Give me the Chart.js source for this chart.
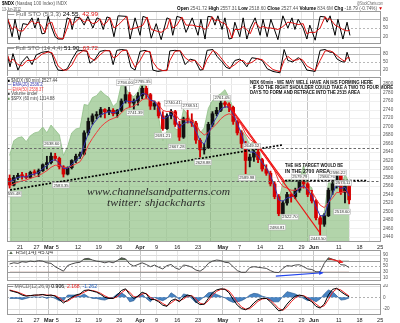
<!DOCTYPE html>
<html><head><meta charset="utf-8"><title>$NDX 60 min</title>
<script src="https://cdn.jsdelivr.net/npm/chart.js@4.4.1/dist/chart.umd.min.js"></script>
<style>
html,body{margin:0;padding:0;background:#fff;}
body{position:relative;width:400px;height:323px;overflow:hidden;}
canvas{position:absolute;left:0;}
</style></head><body>
<canvas id="c1" width="400" height="44" style="top:0px"></canvas>
<canvas id="c2" width="400" height="30" style="top:46px"></canvas>
<canvas id="c3" width="400" height="174" style="top:77px"></canvas>
<canvas id="c4" width="400" height="31" style="top:250px"></canvas>
<canvas id="c5" width="400" height="40" style="top:284px"></canvas>
<script>
// ---------- DATA (trading-day index: Feb 15 2012 = -1) ----------
const firstDay = -1;
const ndxOpen = [2578,2562,2580,2585,2583,2580,2592,2590,2596,2610,
2615,2630,2625,2605,2588,2603,2620,2630,2635,2685,
2712,2725,2728,2740,2735,2738,2730,2738,2760,2775,
2755,2760,2772,2790,2775,2748,2755,2725,2695,2725,
2735,2705,2675,2718,2715,2708,2668,2645,2650,2705,
2730,2738,2755,2752,2745,2712,2685,2660,2620,2628,
2640,2622,2600,2590,2565,2535,2495,2520,2540,2535,
2550,2570,2565,2540,2525,2485,2470,2490,2550,2565,
2585,2545,2560];
const ndxHigh = [2586,2585,2590,2592,2590,2595,2598,2600,2612,2630,
2638,2637,2628,2608,2605,2622,2635,2640,2690,2720,
2730,2735,2745,2742,2745,2742,2740,2765,2794,2780,
2765,2780,2795,2795,2778,2760,2758,2735,2730,2740,
2738,2712,2722,2738,2730,2712,2672,2660,2710,2735,
2745,2761,2766,2756,2748,2715,2690,2665,2635,2645,
2649,2625,2610,2595,2570,2540,2525,2545,2542,2555,
2575,2580,2568,2550,2528,2490,2495,2555,2575,2592,
2596,2573,2565];
const ndxLow = [2555,2560,2575,2576,2577,2578,2585,2582,2594,2600,
2612,2620,2600,2581,2586,2600,2615,2625,2633,2680,
2705,2718,2722,2720,2728,2725,2722,2735,2755,2745,
2741,2750,2765,2765,2740,2740,2720,2691,2693,2718,
2700,2667,2672,2708,2700,2660,2628,2635,2648,2700,
2725,2735,2745,2735,2705,2680,2650,2589,2605,2618,
2615,2595,2585,2560,2530,2490,2485,2515,2522,2530,
2545,2555,2535,2520,2480,2443,2465,2488,2540,2555,
2540,2520,2518];
const ndxClose = [2562,2580,2585,2583,2580,2592,2590,2596,2610,2615,
2630,2625,2605,2588,2603,2620,2630,2635,2685,2712,
2725,2728,2740,2735,2738,2730,2738,2760,2775,2755,
2760,2772,2790,2775,2748,2755,2725,2695,2725,2735,
2705,2675,2718,2715,2708,2668,2645,2650,2705,2730,
2738,2755,2752,2745,2712,2685,2660,2620,2628,2640,
2622,2600,2590,2565,2535,2495,2520,2540,2535,2550,
2570,2565,2540,2525,2485,2470,2490,2550,2565,2585,
2545,2560,2527.44];
const ema20 = [2570,2575,2580,2582,2581,2586,2588,2592,2601,2608,
2619,2622,2613,2601,2602,2611,2620,2628,2656,2684,
2704,2716,2728,2731,2735,2732,2735,2748,2761,2758,
2759,2765,2778,2776,2762,2759,2742,2718,2722,2730,
2718,2696,2707,2711,2710,2689,2667,2658,2682,2706,
2722,2741,2746,2746,2729,2707,2683,2652,2640,2640,
2631,2615,2603,2584,2560,2527,2524,2532,2533,2542,
2556,2561,2550,2538,2511,2490,2490,2520,2542,2563,
2554,2557,2536.2];
const ema50 = [2560,2565,2569,2572,2574,2578,2581,2584,2590,2596,
2604,2609,2608,2603,2603,2607,2612,2617,2633,2656,
2672,2686,2699,2708,2715,2719,2723,2732,2742,2745,
2748,2754,2763,2766,2762,2760,2751,2738,2735,2736,
2729,2716,2716,2716,2714,2704,2689,2680,2686,2697,
2706,2718,2726,2730,2726,2716,2703,2683,2670,2663,
2655,2642,2630,2615,2596,2572,2559,2555,2550,2550,
2555,2558,2554,2547,2530,2515,2509,2521,2532,2545,
2544,2548,2538.37];
const spxClose = [1343,1358,1361,1362,1357,1363,1366,1367,1372,1366,
1374,1369,1364,1343,1352,1366,1370,1371,1395,1394,
1402,1404,1409,1405,1402,1393,1397,1416,1412,1405,
1403,1408,1419,1413,1398,1398,1382,1358,1368,1387,
1370,1369,1390,1385,1376,1378,1366,1371,1391,1399,
1403,1406,1410,1402,1391,1369,1369,1363,1354,1358,
1353,1338,1330,1325,1305,1295,1316,1318,1318,1320,
1317,1333,1313,1310,1278,1278,1285,1315,1315,1325,
1308,1324,1314.88];
const rsi14 = [58,62,60,66,64,68,66,70,68,62,
60,48,40,32,52,58,62,64,76,78,
72,68,66,62,66,62,70,80,76,58,
50,56,62,56,48,54,46,40,52,56,
44,38,54,52,46,36,32,42,60,68,
72,70,64,62,48,34,28,28,45,48,
46,44,42,34,28,27,42,52,50,54,
55,48,40,38,30,30,60,80,75,70,
55,54,45.04];
const macdLine = [12,10,8,4,2,3,4,4,5,3,
4,2,-4,-10,-5,0,4,6,12,13,
11,9,5,0,-2,-2,4,12,15,5,
-2,2,9,6,-4,-4,-8,-14,-16,-6,
-3,-8,0,4,2,-8,-13,-12,-2,8,
13,15,14,8,-4,-14,-20,-22,-18,-10,
-4,-2,-2,-8,-16,-24,-22,-12,-4,2,
4,2,-4,-8,-16,-19,-12,4,14,16,
10,5,0.906];
const macdSignal = [13,11,9,6,3,3,3.5,4,4.5,4,
3.5,3,-1,-7,-7,-2,2,5,9,12.5,
12,10,7,2.5,-1,-2,1,8,13.5,9,
1,0.5,6,7,0,-4,-6,-11,-15,-10,
-4.5,-6,-3,2,3,-3,-10.5,-12.5,-6,4,
10.5,14,14.5,11,2,-9,-17,-21,-20,-14,
-7,-3,-2,-5,-12,-20,-23,-17,-8,-1,
3,3,-1,-6,-12,-17.5,-15,-4,9,15,
13,7.5,2.168];
const macdHist = [-2,-2,-2,-4,-2,0,1,0,1,-2,
1,-2,-6,-6,4,4,4,2,6,1,
-2,-2,-4,-5,-2,0,6,8,3,-8,
-6,3,6,-2,-8,0,-4,-6,-2,8,
3,-4,6,4,-2,-10,-5,1,8,9,
5,2,-1,-6,-9,-8,-6,-2,4,7,
6,2,0,-6,-8,-8,2,10,8,6,
2,-2,-6,-4,-8,-3,6,13,10,3,
-5,-4,-1.262];
const sto1Days = [-1.1,0.1,0.8,1.8,2.7,3.9,4.9,5.6,6.4,7.3,
8.0,8.8,9.7,10.5,11.2,12.4,13.4,14.1,14.6,15.3,
16.5,17.5,18.4,19.6,20.6,21.3,22.1,23.0,23.7,24.7,
25.7,27.8,28.6,29.8,31.0,31.7,32.7,33.7,34.9,36.1,
37.5,38.2,38.9,39.9,41.1,42.1,43.6,45.0,45.7,46.7,
47.4,48.4,49.1,49.8,50.8,51.5,52.5,53.2,53.9,55.1,
55.9,56.8,57.6,58.8,60.0,60.7,61.7,62.6,64.3,65.5,
66.7,67.7,68.4,69.2,70.4,71.3,72.0,73.3,74.5,75.7,
76.2,76.9,78.1,78.8,80.0,81.0,81.7];
const sto1K = [90,20,80,10,65,62,85,50,85,30,
32,90,50,20,12,12,85,80,45,88,
85,60,90,50,85,80,45,88,85,20,
92,90,12,85,25,90,85,15,65,10,
85,80,25,90,85,35,85,25,80,12,
90,88,60,92,45,85,12,15,70,20,
85,12,50,85,25,80,20,80,10,92,
50,85,45,80,50,12,60,8,90,88,
70,92,25,80,12,70,24.55];
const sto1D = [85,45,55,40,40,62,75,65,70,55,
35,65,70,35,16,12,50,82,60,70,
86,70,78,65,70,82,60,70,86,50,
60,90,45,50,55,60,88,45,40,35,
50,82,50,60,88,60,60,55,55,45,
55,89,75,78,68,65,45,15,45,45,
55,45,30,70,50,55,50,50,45,55,
70,68,65,62,65,30,35,35,50,89,
80,82,60,55,45,40,42.99];
const sto2Days = [-1.1,-0.4,0.3,1.5,2.5,3.7,4.9,5.9,7.3,8.8,
9.7,10.5,11.2,12.4,13.4,14.6,15.8,17.2,18.2,18.9,
20.1,21.3,22.5,23.7,24.5,25.4,26.6,27.8,28.8,29.8,
31.0,32.2,33.4,34.1,35.3,36.5,37.5,38.2,39.4,40.7,
41.9,43.1,44.3,45.5,46.2,47.2,48.6,49.6,50.8,51.8,
52.7,53.9,55.1,55.9,56.8,58.0,59.3,60.5,61.7,63.1,
64.8,65.8,66.7,67.9,69.2,69.6,70.4,71.3,73.3,74.5,
75.7,76.9,77.6,78.6,79.8,80.5,81.0,81.7];
const sto2K = [80,32,80,20,50,70,40,75,85,88,
80,40,20,18,25,60,90,92,88,45,
60,88,92,90,40,92,95,92,30,20,
88,92,85,20,15,18,20,90,92,90,
40,60,55,20,22,92,95,70,50,30,
25,55,60,50,32,65,62,55,25,15,
10,95,55,50,65,62,45,20,15,92,
95,85,85,60,50,50,85,51.9];
const sto2D = [78,50,60,40,35,55,55,60,78,86,
84,60,35,20,20,40,75,90,90,65,
55,75,90,91,65,70,90,93,60,30,
55,88,88,50,25,18,18,55,88,91,
65,52,56,35,22,60,92,82,60,40,
28,40,55,55,42,48,62,58,40,22,
14,55,70,55,58,62,55,35,18,55,
90,90,85,72,58,52,65,63.72];
const xTickDays = [2,6,9,11,16,21,26,31,35,40,45,51,55,60,65,70,73,79,84,89];
const xTickLabels = ['21','27','Mar','5','12','19','26','Apr','9','16','23','May','7','14','21','29','Jun','11','18','25'];
const monthLabels = ['Mar','Apr','May','Jun'];
const ndxTicks = [2440,2460,2480,2500,2520,2540,2560,2580,2600,2620,2640,2660,2680,2700,2720,2740,2760,2780,2800];
const stoTicks = [20,50,80];
const rsiTicks = [10,30,50,70,90];
const macdTicks = [-20,0,20];
const priceLabels = [[0.3,2541,'2555.48'],[9.7,2659,'2638.60'],[11.9,2562,'2583.35'],[27.4,2803,'2794.00'],
[31.7,2805,'2795.35'],[29.8,2732,'2741.39'],[39.0,2755,'2740.41'],[43.1,2748,'2738.51'],[36.5,2678,'2691.21'],
[39.9,2652,'2667.28'],[46.2,2616,'2628.88'],[50.8,2767,'2761.05'],[58.0,2654,'2649.12'],[56.8,2579,'2589.98'],
[64.1,2463,'2484.81'],[67.2,2487,'2522.70'],[69.6,2581,'2579.79'],[74.0,2437,'2443.50'],[76.2,2581,'2584.76'],
[78.8,2591,'2596.22'],[80.0,2567,'2573.11'],[79.8,2499,'2518.60']];
const blackDottedLines = [[[-0.4,2550.6],[65.3,2656.5]],[[66,2572.5],[85.8,2572.5]]];
const redTrendLines = [[[51.5,2760],[74.5,2449]],[[52.25,2753],[66,2569]]];
const levelLines = [2650,2572];
const rsiBullArrow = [[63.8,14.3],[75.1,26.4]];
const rsiBearArrow = [[76.6,76.4],[79.9,64.3]];

// ---------- HELPERS ----------
const FONT = '"Liberation Sans", Arial, sans-serif';
const SERIF = '"Liberation Serif", "Times New Roman", serif';
const X_MIN = -1.135, X_MAX = 89.2;
Chart.defaults.font.family = FONT;
const days = ndxClose.map((_, i) => firstDay + i + 0.5);
const xy = vals => vals.map((v, i) => ({x: days[i], y: v}));
const pairs = (xs, ys) => xs.map((x, i) => ({x: x, y: ys[i]}));

function rich(ctx, segs, x, y, width, size) {
  ctx.save();
  ctx.textBaseline = 'middle'; ctx.textAlign = 'left';
  const fonts = segs.map(s => ((s[2] || '') + ' ' + size + 'px ' + (s[3] || FONT)).trim());
  let total = 0;
  segs.forEach((s, i) => { ctx.font = fonts[i]; total += ctx.measureText(s[0]).width; });
  ctx.translate(x, y); ctx.scale(width / total, 1);
  let cx = 0;
  segs.forEach((s, i) => { ctx.font = fonts[i]; ctx.fillStyle = s[1]; ctx.fillText(s[0], cx, 0); cx += ctx.measureText(s[0]).width; });
  ctx.restore();
}
function xScale(show) {
  return {
    type: 'linear', min: X_MIN, max: X_MAX, offset: false,
    afterBuildTicks: s => { s.ticks = xTickDays.map(v => ({value: v})); },
    afterFit: s => { s.height = show ? 9 : 0; s.paddingLeft = 0; s.paddingRight = 0; },
    ticks: {display: show, autoSkip: false, maxRotation: 0, minRotation: 0, padding: 2, color: '#222',
      font: c => ({family: FONT, size: 5.5, weight: monthLabels.includes(xTickLabels[c.index]) ? 'bold' : 'normal'}),
      callback: (v, i) => xTickLabels[i]},
    grid: {drawTicks: false, lineWidth: 1,
      color: c => monthLabels.includes(xTickLabels[c.index]) ? '#c4c4c4' : '#e6e6e6'},
    border: {display: false}
  };
}
function yScale(min, max, ticks) {
  return {
    type: 'linear', position: 'right', min: min, max: max,
    afterFit: s => { s.width = 19; s.paddingTop = 0; s.paddingBottom = 0; },
    afterBuildTicks: s => { s.ticks = ticks.map(v => ({value: v})); },
    ticks: {autoSkip: false, padding: 2, color: '#555', font: {family: FONT, size: 4.6}, callback: v => String(v)},
    grid: {display: false, drawTicks: false},
    border: {display: false}
  };
}
function options(padTop, showX, yMin, yMax, yTicks, extra) {
  const scales = {x: xScale(showX), y: yScale(yMin, yMax, yTicks)};
  Object.assign(scales, extra || {});
  return {
    responsive: false, animation: false, devicePixelRatio: 1, events: [],
    layout: {padding: {left: 7, right: 0, top: padTop, bottom: 0}},
    plugins: {legend: {display: false}, tooltip: {enabled: false}},
    scales: scales
  };
}
function hgrid(lines) {
  return {id: 'hgrid', beforeDatasetsDraw(c) {
    const ctx = c.ctx, a = c.chartArea, ys = c.scales.y;
    ctx.save();
    lines.forEach(l => {
      const y = Math.round(ys.getPixelForValue(l[0])) + 0.5;
      ctx.strokeStyle = l[1]; ctx.lineWidth = 1; ctx.setLineDash(l[2] || []);
      ctx.beginPath(); ctx.moveTo(a.left, y); ctx.lineTo(a.right, y); ctx.stroke();
    });
    ctx.restore();
  }};
}
const frame = {id: 'frame', afterDraw(c) {
  const a = c.chartArea, ctx = c.ctx;
  ctx.save(); ctx.strokeStyle = '#9a9a9a'; ctx.lineWidth = 1;
  ctx.strokeRect(Math.round(a.left) + 0.5, Math.round(a.top) + 0.5, Math.round(a.right - a.left) - 1, Math.round(a.bottom - a.top) - 1);
  ctx.restore();
}};
function drawSeg(c, p, q, yid) {
  const xs = c.scales.x, ys = c.scales[yid || 'y'];
  return [xs.getPixelForValue(p[0]), ys.getPixelForValue(p[1]), xs.getPixelForValue(q[0]), ys.getPixelForValue(q[1])];
}
function arrow(ctx, x1, y1, x2, y2, col) {
  ctx.strokeStyle = col; ctx.fillStyle = col; ctx.lineWidth = 1.2;
  ctx.beginPath(); ctx.moveTo(x1, y1); ctx.lineTo(x2, y2); ctx.stroke();
  const ang = Math.atan2(y2 - y1, x2 - x1), L = 4;
  ctx.beginPath(); ctx.moveTo(x2 + 1, y2 + Math.sin(ang));
  ctx.lineTo(x2 - L * Math.cos(ang - 0.5), y2 - L * Math.sin(ang - 0.5));
  ctx.lineTo(x2 - L * Math.cos(ang + 0.5), y2 - L * Math.sin(ang + 0.5));
  ctx.closePath(); ctx.fill();
}
const noPt = {pointRadius: 0, tension: 0};

// ---------- PANEL 1: Full STO + header ----------
new Chart(document.getElementById('c1'), {
  type: 'line',
  data: {datasets: [
    Object.assign({data: pairs(sto1Days, sto1D), borderColor: '#e01010', borderWidth: 1, order: 1}, noPt),
    Object.assign({data: pairs(sto1Days, sto1K), borderColor: '#000', borderWidth: 1, order: 2}, noPt)
  ]},
  options: options(11, false, -5, 108.6, stoTicks),
  plugins: [hgrid([[80, '#b8b8b8'], [50, '#b8b8b8', [2, 2]], [20, '#b8b8b8']]), frame, {id: 'hdr', afterDraw(c) {
    const ctx = c.ctx;
    rich(ctx, [['$NDX', '#000', 'bold'], [' (Nasdaq 100 Index) INDX', '#555']], 2, 3.6, 65, 5);
    rich(ctx, [['13-Jun-2012', '#555']], 2, 9.4, 19, 4.6);
    rich(ctx, [['@StockCharts.com', '#666']], 357, 3.4, 26, 4.5);
    rich(ctx, [['Open ', '#000', 'bold'], ['2541.72 ', '#555'], ['High ', '#000', 'bold'], ['2557.31 ', '#555'],
      ['Low ', '#000', 'bold'], ['2518.60 ', '#555'], ['Close ', '#000', 'bold'], ['2527.44 ', '#555'],
      ['Volume ', '#000', 'bold'], ['834.6M ', '#555'], ['Chg ', '#000', 'bold'], ['-18.79 (-0.74%) ', '#555'], ['\u25BC', '#d00000']],
      177, 8.6, 206, 4.8);
    rich(ctx, [['\u2014 ', '#000'], ['Full STO (5,3,3) ', '#666'], ['24.55', '#000'], [', ', '#666'], ['42.99', '#e01010']], 8, 15, 90, 4.5);
  }}]
});

// ---------- PANEL 2: Full STO ----------
new Chart(document.getElementById('c2'), {
  type: 'line',
  data: {datasets: [
    Object.assign({data: pairs(sto2Days, sto2D), borderColor: '#e01010', borderWidth: 1, order: 1}, noPt),
    Object.assign({data: pairs(sto2Days, sto2K), borderColor: '#000', borderWidth: 1, order: 2}, noPt)
  ]},
  options: options(0.5, false, -1.6, 106, stoTicks),
  plugins: [hgrid([[80, '#b8b8b8'], [50, '#b8b8b8', [2, 2]], [20, '#b8b8b8']]), frame, {id: 'lg2', afterDraw(c) {
    rich(c.ctx, [['\u2014 ', '#000'], ['Full STO (14,4,4) ', '#666'], ['51.90', '#000'], [', ', '#666'], ['63.72', '#e01010']], 8, 3, 90, 4.5);
  }}]
});

// ---------- PANEL 3: price ----------
const candleColor = c => ndxClose[c.dataIndex] >= ndxOpen[c.dataIndex] ? '#111' : '#d40000';
new Chart(document.getElementById('c3'), {
  type: 'line',
  data: {datasets: [
    Object.assign({data: xy(spxClose), yAxisID: 'ys', borderColor: '#8fbf86', borderWidth: 0.8,
      backgroundColor: 'rgba(130,186,118,0.62)', fill: 'start', order: 6}, noPt),
    {type: 'bar', data: ndxLow.map((l, i) => ({x: days[i], y: [l, ndxHigh[i]]})), barThickness: 1.2, grouped: false,
      backgroundColor: candleColor, order: 4},
    {type: 'bar', data: ndxOpen.map((o, i) => ({x: days[i], y: [o, ndxClose[i]]})), barThickness: 3, minBarLength: 1.5, grouped: false,
      backgroundColor: candleColor, order: 3},
    Object.assign({data: xy(ema50), borderColor: '#f03a3a', borderWidth: 1, order: 2}, noPt),
    Object.assign({data: xy(ema20), borderColor: '#3535b0', borderWidth: 1, order: 1}, noPt)
  ]},
  options: options(0, true, 2428.2, 2816.5, ndxTicks,
    {ys: {type: 'linear', display: false, position: 'left', min: 1254.7, max: 1423}}),
  plugins: [hgrid(ndxTicks.map(v => [v, '#efefef'])), frame, {id: 'ann', afterDatasetsDraw(c) {
    const ctx = c.ctx, a = c.chartArea;
    ctx.save();
    ctx.beginPath(); ctx.rect(a.left, a.top, a.right - a.left, a.bottom - a.top); ctx.clip();
    levelLines.forEach(v => {
      const y = Math.round(c.scales.y.getPixelForValue(v)) + 0.5;
      ctx.strokeStyle = '#6a6a6a'; ctx.lineWidth = 1; ctx.setLineDash([2.5, 2]);
      ctx.beginPath(); ctx.moveTo(a.left, y); ctx.lineTo(a.right, y); ctx.stroke();
    });
    blackDottedLines.forEach(l => {
      const s = drawSeg(c, l[0], l[1]);
      ctx.strokeStyle = '#000'; ctx.lineWidth = 1.7; ctx.setLineDash([2, 1.6]);
      ctx.beginPath(); ctx.moveTo(s[0], s[1]); ctx.lineTo(s[2], s[3]); ctx.stroke();
    });
    ctx.setLineDash([]);
    redTrendLines.forEach(l => {
      const s = drawSeg(c, l[0], l[1]);
      ctx.strokeStyle = '#ee1111'; ctx.lineWidth = 1.1;
      ctx.beginPath(); ctx.moveTo(s[0], s[1]); ctx.lineTo(s[2], s[3]); ctx.stroke();
    });
    ctx.font = '4.2px ' + FONT; ctx.textAlign = 'center'; ctx.textBaseline = 'middle';
    priceLabels.forEach(p => {
      const x = c.scales.x.getPixelForValue(p[0]), y = c.scales.y.getPixelForValue(p[1]);
      const w = ctx.measureText(p[2]).width + 2;
      ctx.fillStyle = 'rgba(255,255,255,0.92)'; ctx.fillRect(x - w / 2, y - 2.8, w, 5.6);
      ctx.strokeStyle = '#a8a8a8'; ctx.lineWidth = 0.5; ctx.strokeRect(x - w / 2, y - 2.8, w, 5.6);
      ctx.fillStyle = '#333'; ctx.fillText(p[2], x, y + 0.2);
    });
    ctx.restore();
    rich(ctx, [['www.channelsandpatterns.com', '#2b2b2b', 'italic', SERIF]], 87, 115, 143, 10.5);
    rich(ctx, [['twitter: shjackcharts', '#2b2b2b', 'italic', SERIF]], 107, 126, 98, 10.5);
    rich(ctx, [['NDX 60min - WE MAY WELL HAVE AN IHS FORMING HERE', '#111', 'bold']], 250, 5.3, 123, 5);
    rich(ctx, [['- IF SO THE RIGHT SHOULDER COULD TAKE A TWO TO FOUR MORE', '#111', 'bold']], 250, 10.3, 143, 5);
    rich(ctx, [['DAYS TO FORM AND RETRACE INTO THE 2515 AREA', '#111', 'bold']], 250, 15.3, 110, 5);
    rich(ctx, [['THE IHS TARGET WOULD BE', '#111', 'bold']], 285, 88.3, 58, 5);
    rich(ctx, [['IN THE 2700 AREA', '#111', 'bold']], 285, 95, 45, 5);
    rich(ctx, [['\u25A0 ', '#000'], ['$NDX (60 min) 2527.44', '#444']], 7.5, 3.7, 50, 4.6);
    rich(ctx, [['\u2014 ', '#3535b0'], ['EMA(20) 2536.2', '#3535b0']], 7.5, 8, 35, 4.6);
    rich(ctx, [['\u2014 ', '#f03a3a'], ['EMA(50) 2538.37', '#f03a3a']], 7.5, 12.3, 36, 4.6);
    rich(ctx, [['\u25A0 ', '#444'], ['Volume undef', '#444']], 7.5, 17, 30, 4.6);
    rich(ctx, [['\u25A0 ', '#6a9a60'], ['$SPX (60 min) 1314.88', '#444']], 7.5, 21.3, 47, 4.6);
  }}]
});

// ---------- PANEL 4: RSI ----------
new Chart(document.getElementById('c4'), {
  type: 'line',
  data: {datasets: [
    Object.assign({data: xy(rsi14), borderColor: '#4a4a4a', borderWidth: 1, order: 1,
      fill: {target: {value: 70}, above: '#55694f', below: 'rgba(0,0,0,0)'}}, noPt),
    Object.assign({data: xy(rsi14), borderColor: 'rgba(0,0,0,0)', borderWidth: 0, order: 2,
      fill: {target: {value: 30}, above: 'rgba(0,0,0,0)', below: '#8a4b3e'}}, noPt)
  ]},
  options: options(0, false, -3.2, 107.9, rsiTicks),
  plugins: [hgrid([[90, '#dcdcdc'], [70, '#9a9a9a'], [50, '#b0b0b0', [2, 2]], [30, '#9a9a9a'], [10, '#dcdcdc']]), frame, {id: 'rsiann', afterDatasetsDraw(c) {
    const ctx = c.ctx;
    ctx.save();
    let s = drawSeg(c, rsiBullArrow[0], rsiBullArrow[1]);
    arrow(ctx, s[0], s[1], s[2], s[3], '#2244ee');
    s = drawSeg(c, rsiBearArrow[0], rsiBearArrow[1]);
    arrow(ctx, s[0], s[1], s[2], s[3], '#ee2222');
    ctx.restore();
    rich(ctx, [['\u25B2 ', '#55694f'], ['RSI(14) 45.04', '#444']], 8, 2.6, 45, 4.6);
  }}]
});

// ---------- PANEL 5: MACD ----------
new Chart(document.getElementById('c5'), {
  type: 'line',
  data: {datasets: [
    Object.assign({data: xy(macdHist), borderColor: '#1d4f86', borderWidth: 0.6, backgroundColor: 'rgba(40,110,185,0.85)', fill: 'origin', order: 3}, noPt),
    Object.assign({data: xy(macdSignal), borderColor: '#ee2020', borderWidth: 1, order: 2}, noPt),
    Object.assign({data: xy(macdLine), borderColor: '#000', borderWidth: 1, order: 1}, noPt)
  ]},
  options: options(0, true, -31.3, 23.5, macdTicks),
  plugins: [hgrid([[20, '#dcdcdc'], [0, '#b0b0b0', [2, 2]], [-20, '#dcdcdc']]), frame, {id: 'mlg', afterDraw(c) {
    rich(c.ctx, [['\u2014 ', '#000'], ['MACD(12,26,9) ', '#666'], ['0.906', '#000'], [', ', '#666'], ['2.168', '#ee2020'], [', ', '#666'], ['-1.262', '#2060c0']], 8, 3, 89, 4.5);
  }}]
});
</script></body></html>
